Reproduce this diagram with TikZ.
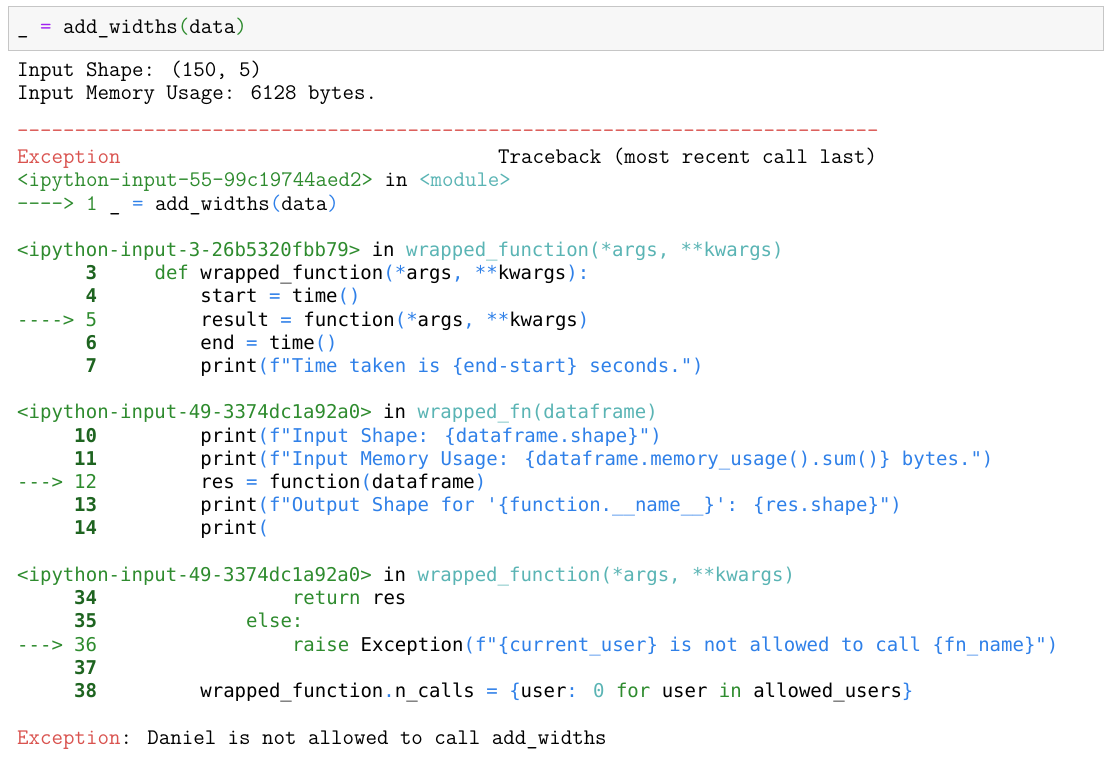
\documentclass[tikz,border=0pt]{standalone}
\usepackage{fontspec}
\newfontfamily\cmono{Latin Modern Mono}
\newfontfamily\smono{DejaVu Sans Mono}
\definecolor{tbgreen}{HTML}{2E8B2E}
\definecolor{tbnum}{HTML}{1E6420}
\definecolor{tbteal}{HTML}{5AB4B4}
\definecolor{tbblue}{HTML}{2F80E8}
\definecolor{tbred}{HTML}{D9534F}
\definecolor{tbpurple}{HTML}{A020F0}
\newcommand\G[1]{\textcolor{tbgreen}{#1}}
\newcommand\B[1]{\textcolor{tbblue}{#1}}
\newcommand\T[1]{\textcolor{tbteal}{#1}}
\newcommand\R[1]{\textcolor{tbred}{#1}}
\newcommand\N[1]{\textcolor{tbnum}{\bfseries #1}}
\tikzset{
  outtxt/.style={font=\cmono\fontsize{22.3}{24}\selectfont, inner sep=0pt, anchor=mid west},
  codetxt/.style={font=\smono\fontsize{19}{23}\selectfont, inner sep=0pt, anchor=mid west},
  numtxt/.style={codetxt, anchor=mid east}
}
% place text at row y, column c
\newcommand\otl[4]{\node[outtxt] (#1) at ({17+#3*11.45},#2+4) {#4};}
\newcommand\ctl[4]{\node[codetxt] (#1) at ({17+#3*11.45},#2+4) {#4};}
\newcommand\ntl[3]{\node[numtxt] (#1) at ({17+7*11.45},#2+4) {#3};}
\begin{document}
\begin{tikzpicture}[x=1pt,y=1pt,yscale=-1]
\useasboundingbox (0,0) rectangle (1104,775);

% input cell
\draw [fill=gray!6, draw=gray!45] (8,6) rectangle (1103.5,50);
\otl{cell}{27}{0}{\_ \textcolor{tbpurple}{=} add\_widths\G{(}data\G{)}}

% output
\otl{shape}{70}{0}{Input Shape: (150, 5)}
\otl{memory}{93}{0}{Input Memory Usage: 6128 bytes.}
\otl{rule}{131}{0}{\R{---------------------------------------------------------------------------}}
\otl{exc}{157}{0}{\R{Exception}}
\otl{tb}{157}{42}{Traceback (most recent call last)}
\otl{fa}{180}{0}{\G{<ipython-input-55-99c19744aed2>} in \T{<module>}}
\otl{fa1}{204}{0}{\G{----> 1} \_ \B{=} add\_widths\B{(}data\B{)}}

% frame 2
\ctl{fb}{250}{0}{\G{<ipython-input-3-26b5320fbb79>} in \T{wrapped\_function(*args, **kwargs)}}
\ntl{nb3}{273}{\N{3}}
\ctl{cb3}{273}{12}{\G{def} wrapped\_function\B{(*}args\B{, **}kwargs\B{):}}
\ntl{nb4}{296}{\N{4}}
\ctl{cb4}{296}{16}{start \B{=} time\B{()}}
\ctl{ab5}{320}{0}{\G{---->}}
\ntl{nb5}{320}{\G{5}}
\ctl{cb5}{320}{16}{result \B{=} function\B{(*}args\B{, **}kwargs\B{)}}
\ntl{nb6}{343}{\N{6}}
\ctl{cb6}{343}{16}{end \B{=} time\B{()}}
\ntl{nb7}{366}{\N{7}}
\ctl{cb7}{366}{16}{print\B{(f"Time taken is \{end-start\} seconds.")}}

% frame 3
\ctl{fc}{412}{0}{\G{<ipython-input-49-3374dc1a92a0>} in \T{wrapped\_fn(dataframe)}}
\ntl{nc10}{436}{\N{10}}
\ctl{cc10}{436}{16}{print\B{(f"Input Shape: \{dataframe.shape\}")}}
\ntl{nc11}{459}{\N{11}}
\ctl{cc11}{459}{16}{print\B{(f"Input Memory Usage: \{dataframe.memory\_usage().sum()\} bytes.")}}
\ctl{ac12}{482}{0}{\G{--->}}
\ntl{nc12}{482}{\G{12}}
\ctl{cc12}{482}{16}{res \B{=} function\B{(}dataframe\B{)}}
\ntl{nc13}{505}{\N{13}}
\ctl{cc13}{505}{16}{print\B{(f"Output Shape for '\{function.\_\_name\_\_\}': \{res.shape\}")}}
\ntl{nc14}{528}{\N{14}}
\ctl{cc14}{528}{16}{print\B{(}}

% frame 4
\ctl{fd}{575}{0}{\G{<ipython-input-49-3374dc1a92a0>} in \T{wrapped\_function(*args, **kwargs)}}
\ntl{nd34}{598}{\N{34}}
\ctl{cd34}{598}{24}{\G{return} res}
\ntl{nd35}{621}{\N{35}}
\ctl{cd35}{621}{20}{\G{else:}}
\ctl{ad36}{645}{0}{\G{--->}}
\ntl{nd36}{645}{\G{36}}
\ctl{cd36}{645}{24}{\G{raise} Exception\B{(f"\{current\_user\} is not allowed to call \{fn\_name\}")}}
\ntl{nd37}{668}{\N{37}}
\ntl{nd38}{691}{\N{38}}
\ctl{cd38}{691}{16}{wrapped\_function\B{.}n\_calls \B{=} \B{\{}user\B{:} \T{0} \G{for} user \G{in} allowed\_users\B{\}}}

% message
\otl{msg}{738}{0}{\R{Exception}: Daniel is not allowed to call add\_widths}
\end{tikzpicture}
\end{document}
